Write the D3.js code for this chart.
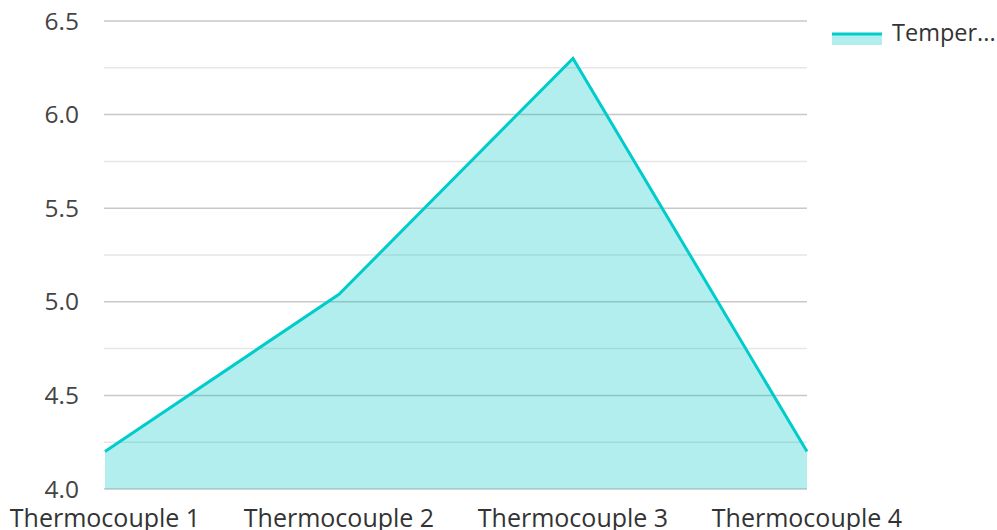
<!DOCTYPE html>
<html><head><meta charset="utf-8">
<script src="https://cdn.jsdelivr.net/npm/d3@7"></script>
<style>body{margin:0;background:#fff;} text{font-family:"Open Sans",sans-serif;}</style>
</head><body><svg id="c" width="997" height="530"></svg>
<script>
const categories = ["Thermocouple 1","Thermocouple 2","Thermocouple 3","Thermocouple 4"];
const values = [4.2, 5.04, 6.3, 4.2];
const seriesName = "Temperature";
const majorTicks = [4.0, 4.5, 5.0, 5.5, 6.0, 6.5];
const minorTicks = [4.25, 4.75, 5.25, 5.75, 6.25];

const svg = d3.select("#c");
const pLeft = 105, pRight = 807, pTop = 21, pBottom = 489;
const x = d3.scalePoint().domain(categories).range([pLeft, pRight]);
const y = d3.scaleLinear().domain([4.0, 6.5]).range([pBottom, pTop]);

const g = svg.append("g");
g.selectAll(".mn").data(minorTicks).enter().append("line")
  .attr("x1", pLeft-1).attr("x2", pRight).attr("y1", d=>y(d)).attr("y2", d=>y(d))
  .attr("stroke", "#e6e6e6").attr("stroke-width", 1.5);
g.selectAll(".mj").data(majorTicks).enter().append("line")
  .attr("x1", pLeft-1).attr("x2", pRight).attr("y1", d=>y(d)).attr("y2", d=>y(d))
  .attr("stroke", "#c8c8c8").attr("stroke-width", 1.5);

const data = categories.map((c,i)=>({c, v: values[i]}));
g.append("path").datum(data)
  .attr("d", d3.area().x(d=>x(d.c)).y0(y(4.0)).y1(d=>y(d.v)))
  .attr("fill", "#00c8c8").attr("fill-opacity", 0.3);
g.append("path").datum(data)
  .attr("d", d3.line().x(d=>x(d.c)).y(d=>y(d.v)))
  .attr("fill", "none").attr("stroke", "#00cccc").attr("stroke-width", 3).attr("stroke-linejoin","miter");

g.selectAll(".yl").data(majorTicks).enter().append("text")
  .attr("x", 79).attr("y", d=>y(d)).attr("dy", "0.35em").attr("text-anchor", "end")
  .attr("font-size", 24.5).attr("fill", "#444").text(d=>d.toFixed(1));
g.selectAll(".xl").data(categories).enter().append("text")
  .attr("x", d=>x(d)).attr("y", 518).attr("dy", "0.35em").attr("text-anchor", "middle")
  .attr("font-size", 25).attr("fill", "#333").text(d=>d);

const lg = svg.append("g");
lg.append("rect").attr("x", 832).attr("y", 34).attr("width", 50).attr("height", 11).attr("fill", "#00c8c8").attr("fill-opacity", 0.3);
lg.append("line").attr("x1", 832).attr("x2", 882).attr("y1", 34).attr("y2", 34).attr("stroke", "#00cccc").attr("stroke-width", 3);
lg.append("text").attr("x", 892).attr("y", 33).attr("dy", "0.35em").attr("font-size", 23.5).attr("fill", "#333")
  .text(seriesName.slice(0,6) + "...");
</script></body></html>
